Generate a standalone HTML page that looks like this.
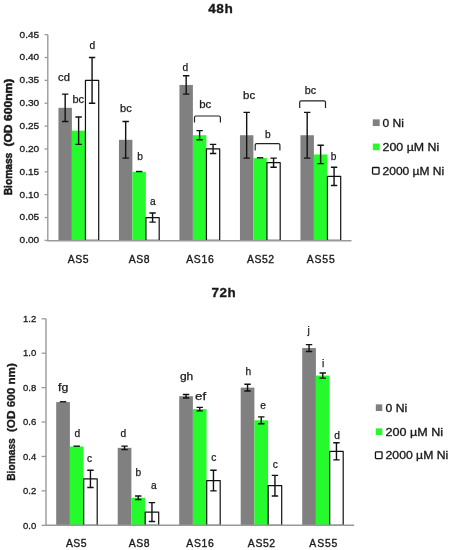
<!DOCTYPE html>
<html><head><meta charset="utf-8"><title>Biomass 48h / 72h</title>
<style>
html,body{margin:0;padding:0;background:#fff;}
body{width:452px;height:550px;overflow:hidden;}
svg{display:block;filter:blur(0.3px);}
</style></head><body>
<svg width="452" height="550" viewBox="0 0 452 550" font-family="'Liberation Sans', Arial, sans-serif">
<rect width="452" height="550" fill="#fff"/>
<text x="208.2" y="13.1" font-size="13.6" font-weight="bold" textLength="24.6" lengthAdjust="spacing" fill="#1a1a1a" stroke="#1a1a1a" stroke-width="0.35">48h</text>
<text transform="translate(11.6,195.3) rotate(-90)" font-size="10.8" font-weight="bold" fill="#1a1a1a" stroke="#1a1a1a" stroke-width="0.5" textLength="42.6" lengthAdjust="spacingAndGlyphs">Biomass</text>
<text transform="translate(11.6,146.6) rotate(-90)" font-size="10.8" font-weight="bold" fill="#1a1a1a" stroke="#1a1a1a" stroke-width="0.5" textLength="68" lengthAdjust="spacingAndGlyphs">(OD 600nm)</text>
<path d="M44.6 240.4H47.8" stroke="#9a9a9a" stroke-width="1.3"/>
<text x="39.2" y="243.3" font-size="9.4" text-anchor="end" textLength="19.6" lengthAdjust="spacingAndGlyphs" fill="#1a1a1a" stroke="#1a1a1a" stroke-width="0.3">0.00</text>
<path d="M44.6 217.54H47.8" stroke="#9a9a9a" stroke-width="1.3"/>
<text x="39.2" y="220.44" font-size="9.4" text-anchor="end" textLength="19.6" lengthAdjust="spacingAndGlyphs" fill="#1a1a1a" stroke="#1a1a1a" stroke-width="0.3">0.05</text>
<path d="M44.6 194.68H47.8" stroke="#9a9a9a" stroke-width="1.3"/>
<text x="39.2" y="197.58" font-size="9.4" text-anchor="end" textLength="19.6" lengthAdjust="spacingAndGlyphs" fill="#1a1a1a" stroke="#1a1a1a" stroke-width="0.3">0.10</text>
<path d="M44.6 171.82H47.8" stroke="#9a9a9a" stroke-width="1.3"/>
<text x="39.2" y="174.72" font-size="9.4" text-anchor="end" textLength="19.6" lengthAdjust="spacingAndGlyphs" fill="#1a1a1a" stroke="#1a1a1a" stroke-width="0.3">0.15</text>
<path d="M44.6 148.96H47.8" stroke="#9a9a9a" stroke-width="1.3"/>
<text x="39.2" y="151.86" font-size="9.4" text-anchor="end" textLength="19.6" lengthAdjust="spacingAndGlyphs" fill="#1a1a1a" stroke="#1a1a1a" stroke-width="0.3">0.20</text>
<path d="M44.6 126.1H47.8" stroke="#9a9a9a" stroke-width="1.3"/>
<text x="39.2" y="129" font-size="9.4" text-anchor="end" textLength="19.6" lengthAdjust="spacingAndGlyphs" fill="#1a1a1a" stroke="#1a1a1a" stroke-width="0.3">0.25</text>
<path d="M44.6 103.24H47.8" stroke="#9a9a9a" stroke-width="1.3"/>
<text x="39.2" y="106.14" font-size="9.4" text-anchor="end" textLength="19.6" lengthAdjust="spacingAndGlyphs" fill="#1a1a1a" stroke="#1a1a1a" stroke-width="0.3">0.30</text>
<path d="M44.6 80.38H47.8" stroke="#9a9a9a" stroke-width="1.3"/>
<text x="39.2" y="83.28" font-size="9.4" text-anchor="end" textLength="19.6" lengthAdjust="spacingAndGlyphs" fill="#1a1a1a" stroke="#1a1a1a" stroke-width="0.3">0.35</text>
<path d="M44.6 57.52H47.8" stroke="#9a9a9a" stroke-width="1.3"/>
<text x="39.2" y="60.42" font-size="9.4" text-anchor="end" textLength="19.6" lengthAdjust="spacingAndGlyphs" fill="#1a1a1a" stroke="#1a1a1a" stroke-width="0.3">0.40</text>
<path d="M44.6 34.66H47.8" stroke="#9a9a9a" stroke-width="1.3"/>
<text x="39.2" y="37.56" font-size="9.4" text-anchor="end" textLength="19.6" lengthAdjust="spacingAndGlyphs" fill="#1a1a1a" stroke="#1a1a1a" stroke-width="0.3">0.45</text>
<rect x="58.45" y="107.81" width="13.45" height="132.59" fill="#808080"/>
<path d="M65.17 94.1V121.53M61.97 94.1H68.38M61.97 121.53H68.38" stroke="#111" stroke-width="1.4" fill="none"/>
<rect x="71.9" y="130.67" width="13.45" height="109.73" fill="#25fa2d"/>
<path d="M78.62 116.96V144.39M75.42 116.96H81.83M75.42 144.39H81.83" stroke="#111" stroke-width="1.4" fill="none"/>
<rect x="85.45" y="80.38" width="13.25" height="160.02" fill="#fff" stroke="#111" stroke-width="1.2" stroke-linejoin="round"/>
<path d="M92.07 57.52V103.24M88.87 57.52H95.27M88.87 103.24H95.27" stroke="#111" stroke-width="1.4" fill="none"/>
<text x="78.12" y="262.6" font-size="10.4" text-anchor="middle" textLength="20.6" lengthAdjust="spacing" fill="#1a1a1a" stroke="#1a1a1a" stroke-width="0.35">AS5</text>
<rect x="118.95" y="139.82" width="13.45" height="100.58" fill="#808080"/>
<path d="M125.67 121.53V158.1M122.47 121.53H128.88M122.47 158.1H128.88" stroke="#111" stroke-width="1.4" fill="none"/>
<rect x="132.4" y="171.82" width="13.45" height="68.58" fill="#25fa2d"/>
<path d="M135.93 171.52H142.32" stroke="#111" stroke-width="1.4" fill="none"/>
<rect x="145.95" y="217.54" width="13.25" height="22.86" fill="#fff" stroke="#111" stroke-width="1.2" stroke-linejoin="round"/>
<path d="M152.57 212.97V222.11M149.38 212.97H155.77M149.38 222.11H155.77" stroke="#111" stroke-width="1.4" fill="none"/>
<text x="139.12" y="262.6" font-size="10.4" text-anchor="middle" textLength="20.8" lengthAdjust="spacing" fill="#1a1a1a" stroke="#1a1a1a" stroke-width="0.35">AS8</text>
<rect x="179.45" y="84.95" width="13.45" height="155.45" fill="#808080"/>
<path d="M186.17 75.81V94.1M182.97 75.81H189.37M182.97 94.1H189.37" stroke="#111" stroke-width="1.4" fill="none"/>
<rect x="192.9" y="135.24" width="13.45" height="105.16" fill="#25fa2d"/>
<path d="M199.62 130.67V139.82M196.42 130.67H202.82M196.42 139.82H202.82" stroke="#111" stroke-width="1.4" fill="none"/>
<rect x="206.45" y="148.96" width="13.25" height="91.44" fill="#fff" stroke="#111" stroke-width="1.2" stroke-linejoin="round"/>
<path d="M213.07 144.39V153.53M209.88 144.39H216.27M209.88 153.53H216.27" stroke="#111" stroke-width="1.4" fill="none"/>
<text x="199.93" y="262.6" font-size="10.4" text-anchor="middle" textLength="27.6" lengthAdjust="spacing" fill="#1a1a1a" stroke="#1a1a1a" stroke-width="0.35">AS16</text>
<rect x="239.95" y="135.24" width="13.45" height="105.16" fill="#808080"/>
<path d="M246.67 112.38V158.1M243.47 112.38H249.87M243.47 158.1H249.87" stroke="#111" stroke-width="1.4" fill="none"/>
<rect x="253.4" y="158.1" width="13.45" height="82.3" fill="#25fa2d"/>
<path d="M256.93 157.8H263.32" stroke="#111" stroke-width="1.4" fill="none"/>
<rect x="266.95" y="162.68" width="13.25" height="77.72" fill="#fff" stroke="#111" stroke-width="1.2" stroke-linejoin="round"/>
<path d="M273.57 158.1V167.25M270.38 158.1H276.77M270.38 167.25H276.77" stroke="#111" stroke-width="1.4" fill="none"/>
<text x="260.52" y="262.6" font-size="10.4" text-anchor="middle" textLength="27.2" lengthAdjust="spacing" fill="#1a1a1a" stroke="#1a1a1a" stroke-width="0.35">AS52</text>
<rect x="300.45" y="135.24" width="13.45" height="105.16" fill="#808080"/>
<path d="M307.18 112.38V158.1M303.98 112.38H310.38M303.98 158.1H310.38" stroke="#111" stroke-width="1.4" fill="none"/>
<rect x="313.9" y="154.45" width="13.45" height="85.95" fill="#25fa2d"/>
<path d="M320.62 145.3V163.59M317.43 145.3H323.82M317.43 163.59H323.82" stroke="#111" stroke-width="1.4" fill="none"/>
<rect x="327.45" y="176.39" width="13.25" height="64.01" fill="#fff" stroke="#111" stroke-width="1.2" stroke-linejoin="round"/>
<path d="M334.07 167.25V185.54M330.88 167.25H337.27M330.88 185.54H337.27" stroke="#111" stroke-width="1.4" fill="none"/>
<text x="320.73" y="262.6" font-size="10.4" text-anchor="middle" textLength="28" lengthAdjust="spacing" fill="#1a1a1a" stroke="#1a1a1a" stroke-width="0.35">AS55</text>
<path d="M47.8 34.7V240.8H351.5" fill="none" stroke="#9a9a9a" stroke-width="1.4"/>
<text x="64" y="81.4" font-size="10.2" text-anchor="middle" textLength="11.8" lengthAdjust="spacingAndGlyphs" fill="#1a1a1a" stroke="#1a1a1a" stroke-width="0.25">cd</text>
<text x="78.2" y="102.5" font-size="10.2" text-anchor="middle" textLength="11.6" lengthAdjust="spacingAndGlyphs" fill="#1a1a1a" stroke="#1a1a1a" stroke-width="0.25">bc</text>
<text x="92.3" y="49.2" font-size="10.2" text-anchor="middle" fill="#1a1a1a" stroke="#1a1a1a" stroke-width="0.25">d</text>
<text x="125.95" y="111.7" font-size="10.2" text-anchor="middle" textLength="11.7" lengthAdjust="spacingAndGlyphs" fill="#1a1a1a" stroke="#1a1a1a" stroke-width="0.25">bc</text>
<text x="140.1" y="159.8" font-size="10.2" text-anchor="middle" fill="#1a1a1a" stroke="#1a1a1a" stroke-width="0.25">b</text>
<text x="152.9" y="205.4" font-size="10.2" text-anchor="middle" fill="#1a1a1a" stroke="#1a1a1a" stroke-width="0.25">a</text>
<text x="185.45" y="70.5" font-size="10.2" text-anchor="middle" fill="#1a1a1a" stroke="#1a1a1a" stroke-width="0.25">d</text>
<text x="205.25" y="108.3" font-size="10.2" text-anchor="middle" textLength="12.1" lengthAdjust="spacingAndGlyphs" fill="#1a1a1a" stroke="#1a1a1a" stroke-width="0.25">bc</text>
<text x="249.15" y="98.6" font-size="10.2" text-anchor="middle" textLength="12.1" lengthAdjust="spacingAndGlyphs" fill="#1a1a1a" stroke="#1a1a1a" stroke-width="0.25">bc</text>
<text x="267.95" y="138" font-size="10.2" text-anchor="middle" fill="#1a1a1a" stroke="#1a1a1a" stroke-width="0.25">b</text>
<text x="310.4" y="93.6" font-size="10.2" text-anchor="middle" textLength="11.4" lengthAdjust="spacingAndGlyphs" fill="#1a1a1a" stroke="#1a1a1a" stroke-width="0.25">bc</text>
<text x="333.5" y="159.7" font-size="10.2" text-anchor="middle" fill="#1a1a1a" stroke="#1a1a1a" stroke-width="0.25">b</text>
<path d="M194.5 122.5V117.5Q194.5 116 196 116H218.9Q220.4 116 220.4 117.5V122.5" fill="none" stroke="#222" stroke-width="1.2"/>
<path d="M255.2 150.4V145.1Q255.2 143.6 256.7 143.6H278.4Q279.9 143.6 279.9 145.1V150.4" fill="none" stroke="#222" stroke-width="1.2"/>
<path d="M299.7 107.9V102.3Q299.7 100.8 301.2 100.8H324Q325.5 100.8 325.5 102.3V107.9" fill="none" stroke="#222" stroke-width="1.2"/>
<rect x="372.8" y="119.35" width="6.9" height="6.7" fill="#808080"/>
<text x="382.6" y="126.5" font-size="10" textLength="21.4" lengthAdjust="spacingAndGlyphs" fill="#1a1a1a" xml:space="preserve" stroke="#1a1a1a" stroke-width="0.3">0 Ni</text>
<rect x="372.8" y="143.55" width="6.9" height="6.7" fill="#25fa2d"/>
<text x="382.6" y="150.7" font-size="10" textLength="56.6" lengthAdjust="spacingAndGlyphs" fill="#1a1a1a" xml:space="preserve" stroke="#1a1a1a" stroke-width="0.3">200 µM Ni</text>
<rect x="372.55" y="167.5" width="6.5" height="6.6" rx="0.8" fill="#fff" stroke="#111" stroke-width="1.3"/>
<text x="382.6" y="174.6" font-size="10" textLength="61.6" lengthAdjust="spacingAndGlyphs" fill="#1a1a1a" xml:space="preserve" stroke="#1a1a1a" stroke-width="0.3">2000 µM Ni</text>
<text x="211.6" y="297.4" font-size="13.4" font-weight="bold" textLength="24.2" lengthAdjust="spacing" fill="#1a1a1a" stroke="#1a1a1a" stroke-width="0.35">72h</text>
<text transform="translate(15.4,480.8) rotate(-90)" font-size="11" font-weight="bold" fill="#1a1a1a" stroke="#1a1a1a" stroke-width="0.35" textLength="42.6" lengthAdjust="spacingAndGlyphs">Biomass</text>
<text transform="translate(15.4,432.1) rotate(-90)" font-size="11" font-weight="bold" fill="#1a1a1a" stroke="#1a1a1a" stroke-width="0.35" textLength="69" lengthAdjust="spacingAndGlyphs">(OD 600 nm)</text>
<path d="M41.6 525.3H46" stroke="#9a9a9a" stroke-width="1.3"/>
<text x="36.2" y="528.5" font-size="9.6" text-anchor="end" textLength="13.2" lengthAdjust="spacingAndGlyphs" fill="#1a1a1a" stroke="#1a1a1a" stroke-width="0.3">0.0</text>
<path d="M41.6 490.88H46" stroke="#9a9a9a" stroke-width="1.3"/>
<text x="36.2" y="494.08" font-size="9.6" text-anchor="end" textLength="13.2" lengthAdjust="spacingAndGlyphs" fill="#1a1a1a" stroke="#1a1a1a" stroke-width="0.3">0.2</text>
<path d="M41.6 456.46H46" stroke="#9a9a9a" stroke-width="1.3"/>
<text x="36.2" y="459.66" font-size="9.6" text-anchor="end" textLength="13.2" lengthAdjust="spacingAndGlyphs" fill="#1a1a1a" stroke="#1a1a1a" stroke-width="0.3">0.4</text>
<path d="M41.6 422.04H46" stroke="#9a9a9a" stroke-width="1.3"/>
<text x="36.2" y="425.24" font-size="9.6" text-anchor="end" textLength="13.2" lengthAdjust="spacingAndGlyphs" fill="#1a1a1a" stroke="#1a1a1a" stroke-width="0.3">0.6</text>
<path d="M41.6 387.62H46" stroke="#9a9a9a" stroke-width="1.3"/>
<text x="36.2" y="390.82" font-size="9.6" text-anchor="end" textLength="13.2" lengthAdjust="spacingAndGlyphs" fill="#1a1a1a" stroke="#1a1a1a" stroke-width="0.3">0.8</text>
<path d="M41.6 353.2H46" stroke="#9a9a9a" stroke-width="1.3"/>
<text x="36.2" y="356.4" font-size="9.6" text-anchor="end" textLength="13.2" lengthAdjust="spacingAndGlyphs" fill="#1a1a1a" stroke="#1a1a1a" stroke-width="0.3">1.0</text>
<path d="M41.6 318.78H46" stroke="#9a9a9a" stroke-width="1.3"/>
<text x="36.2" y="321.98" font-size="9.6" text-anchor="end" textLength="13.2" lengthAdjust="spacingAndGlyphs" fill="#1a1a1a" stroke="#1a1a1a" stroke-width="0.3">1.2</text>
<rect x="56.2" y="402.08" width="13.7" height="123.22" fill="#808080"/>
<path d="M59.85 401.78H66.25" stroke="#111" stroke-width="1.4" fill="none"/>
<rect x="69.9" y="446.48" width="13.7" height="78.82" fill="#25fa2d"/>
<path d="M73.55 446.18H79.95" stroke="#111" stroke-width="1.4" fill="none"/>
<rect x="83.7" y="478.83" width="13.5" height="46.47" fill="#fff" stroke="#111" stroke-width="1.2" stroke-linejoin="round"/>
<path d="M90.45 470.23V487.44M87.25 470.23H93.65M87.25 487.44H93.65" stroke="#111" stroke-width="1.4" fill="none"/>
<text x="76.25" y="546.8" font-size="10.4" text-anchor="middle" textLength="20.6" lengthAdjust="spacing" fill="#1a1a1a" stroke="#1a1a1a" stroke-width="0.35">AS5</text>
<rect x="117.7" y="447.85" width="13.7" height="77.44" fill="#808080"/>
<path d="M124.55 446.13V449.58M121.35 446.13H127.75M121.35 449.58H127.75" stroke="#111" stroke-width="1.4" fill="none"/>
<rect x="131.4" y="497.76" width="13.7" height="27.54" fill="#25fa2d"/>
<path d="M138.25 496.04V499.48M135.05 496.04H141.45M135.05 499.48H141.45" stroke="#111" stroke-width="1.4" fill="none"/>
<rect x="145.2" y="512.05" width="13.5" height="13.25" fill="#fff" stroke="#111" stroke-width="1.2" stroke-linejoin="round"/>
<path d="M151.95 502.58V521.51M148.75 502.58H155.15M148.75 521.51H155.15" stroke="#111" stroke-width="1.4" fill="none"/>
<text x="139.05" y="546.8" font-size="10.4" text-anchor="middle" textLength="20.8" lengthAdjust="spacing" fill="#1a1a1a" stroke="#1a1a1a" stroke-width="0.35">AS8</text>
<rect x="179.2" y="396.22" width="13.7" height="129.07" fill="#808080"/>
<path d="M186.05 394.5V397.95M182.85 394.5H189.25M182.85 397.95H189.25" stroke="#111" stroke-width="1.4" fill="none"/>
<rect x="192.9" y="409.13" width="13.7" height="116.17" fill="#25fa2d"/>
<path d="M199.75 407.41V410.85M196.55 407.41H202.95M196.55 410.85H202.95" stroke="#111" stroke-width="1.4" fill="none"/>
<rect x="206.7" y="480.55" width="13.5" height="44.75" fill="#fff" stroke="#111" stroke-width="1.2" stroke-linejoin="round"/>
<path d="M213.45 470.23V490.88M210.25 470.23H216.65M210.25 490.88H216.65" stroke="#111" stroke-width="1.4" fill="none"/>
<text x="200.05" y="546.8" font-size="10.4" text-anchor="middle" textLength="27.6" lengthAdjust="spacing" fill="#1a1a1a" stroke="#1a1a1a" stroke-width="0.35">AS16</text>
<rect x="240.7" y="387.62" width="13.7" height="137.68" fill="#808080"/>
<path d="M247.55 384.18V391.06M244.35 384.18H250.75M244.35 391.06H250.75" stroke="#111" stroke-width="1.4" fill="none"/>
<rect x="254.4" y="420.32" width="13.7" height="104.98" fill="#25fa2d"/>
<path d="M261.25 416.88V423.76M258.05 416.88H264.45M258.05 423.76H264.45" stroke="#111" stroke-width="1.4" fill="none"/>
<rect x="268.2" y="485.72" width="13.5" height="39.58" fill="#fff" stroke="#111" stroke-width="1.2" stroke-linejoin="round"/>
<path d="M274.95 475.39V496.04M271.75 475.39H278.15M271.75 496.04H278.15" stroke="#111" stroke-width="1.4" fill="none"/>
<text x="261.45" y="546.8" font-size="10.4" text-anchor="middle" textLength="27.2" lengthAdjust="spacing" fill="#1a1a1a" stroke="#1a1a1a" stroke-width="0.35">AS52</text>
<rect x="302.2" y="348.04" width="13.7" height="177.26" fill="#808080"/>
<path d="M309.05 344.59V351.48M305.85 344.59H312.25M305.85 351.48H312.25" stroke="#111" stroke-width="1.4" fill="none"/>
<rect x="315.9" y="375.57" width="13.7" height="149.73" fill="#25fa2d"/>
<path d="M322.75 372.99V378.15M319.55 372.99H325.95M319.55 378.15H325.95" stroke="#111" stroke-width="1.4" fill="none"/>
<rect x="329.7" y="451.3" width="13.5" height="74" fill="#fff" stroke="#111" stroke-width="1.2" stroke-linejoin="round"/>
<path d="M336.45 442.69V459.9M333.25 442.69H339.65M333.25 459.9H339.65" stroke="#111" stroke-width="1.4" fill="none"/>
<text x="323.35" y="546.8" font-size="10.4" text-anchor="middle" textLength="28" lengthAdjust="spacing" fill="#1a1a1a" stroke="#1a1a1a" stroke-width="0.35">AS55</text>
<path d="M46 318.8V525.3H354.2" fill="none" stroke="#9a9a9a" stroke-width="1.4"/>
<text x="63.2" y="391.4" font-size="10.2" text-anchor="middle" textLength="10.2" lengthAdjust="spacingAndGlyphs" fill="#1a1a1a" stroke="#1a1a1a" stroke-width="0.25">fg</text>
<text x="77.35" y="436.7" font-size="10.2" text-anchor="middle" fill="#1a1a1a" stroke="#1a1a1a" stroke-width="0.25">d</text>
<text x="89.6" y="461.5" font-size="10.2" text-anchor="middle" fill="#1a1a1a" stroke="#1a1a1a" stroke-width="0.25">c</text>
<text x="123.35" y="436.7" font-size="10.2" text-anchor="middle" fill="#1a1a1a" stroke="#1a1a1a" stroke-width="0.25">d</text>
<text x="138.25" y="476.4" font-size="10.2" text-anchor="middle" fill="#1a1a1a" stroke="#1a1a1a" stroke-width="0.25">b</text>
<text x="153.95" y="489.2" font-size="10.2" text-anchor="middle" fill="#1a1a1a" stroke="#1a1a1a" stroke-width="0.25">a</text>
<text x="186.55" y="379.6" font-size="10.2" text-anchor="middle" textLength="13.3" lengthAdjust="spacingAndGlyphs" fill="#1a1a1a" stroke="#1a1a1a" stroke-width="0.25">gh</text>
<text x="200.65" y="399.9" font-size="10.2" text-anchor="middle" textLength="11.1" lengthAdjust="spacingAndGlyphs" fill="#1a1a1a" stroke="#1a1a1a" stroke-width="0.25">ef</text>
<text x="213.85" y="461.3" font-size="10.2" text-anchor="middle" fill="#1a1a1a" stroke="#1a1a1a" stroke-width="0.25">c</text>
<text x="248.3" y="375.1" font-size="10.2" text-anchor="middle" fill="#1a1a1a" stroke="#1a1a1a" stroke-width="0.25">h</text>
<text x="263" y="408.9" font-size="10.2" text-anchor="middle" fill="#1a1a1a" stroke="#1a1a1a" stroke-width="0.25">e</text>
<text x="275.2" y="467.5" font-size="10.2" text-anchor="middle" fill="#1a1a1a" stroke="#1a1a1a" stroke-width="0.25">c</text>
<text x="308.55" y="333.5" font-size="10.2" text-anchor="middle" fill="#1a1a1a" stroke="#1a1a1a" stroke-width="0.25">j</text>
<text x="323.2" y="366.9" font-size="10.2" text-anchor="middle" fill="#1a1a1a" stroke="#1a1a1a" stroke-width="0.25">i</text>
<text x="337.1" y="438.7" font-size="10.2" text-anchor="middle" fill="#1a1a1a" stroke="#1a1a1a" stroke-width="0.25">d</text>
<rect x="375.8" y="404.35" width="6.5" height="6.7" fill="#808080"/>
<text x="385.6" y="411.6" font-size="10" textLength="21.6" lengthAdjust="spacingAndGlyphs" fill="#1a1a1a" xml:space="preserve" stroke="#1a1a1a" stroke-width="0.3">0 Ni</text>
<rect x="375.8" y="428.35" width="6.5" height="6.7" fill="#25fa2d"/>
<text x="385.6" y="435.6" font-size="10" textLength="57.4" lengthAdjust="spacingAndGlyphs" fill="#1a1a1a" xml:space="preserve" stroke="#1a1a1a" stroke-width="0.3">200 µM Ni</text>
<rect x="375.45" y="451.95" width="6.6" height="6.7" rx="0.8" fill="#fff" stroke="#111" stroke-width="1.3"/>
<text x="385.6" y="459.2" font-size="10" textLength="62.6" lengthAdjust="spacingAndGlyphs" fill="#1a1a1a" xml:space="preserve" stroke="#1a1a1a" stroke-width="0.3">2000 µM Ni</text>
</svg>
</body></html>
